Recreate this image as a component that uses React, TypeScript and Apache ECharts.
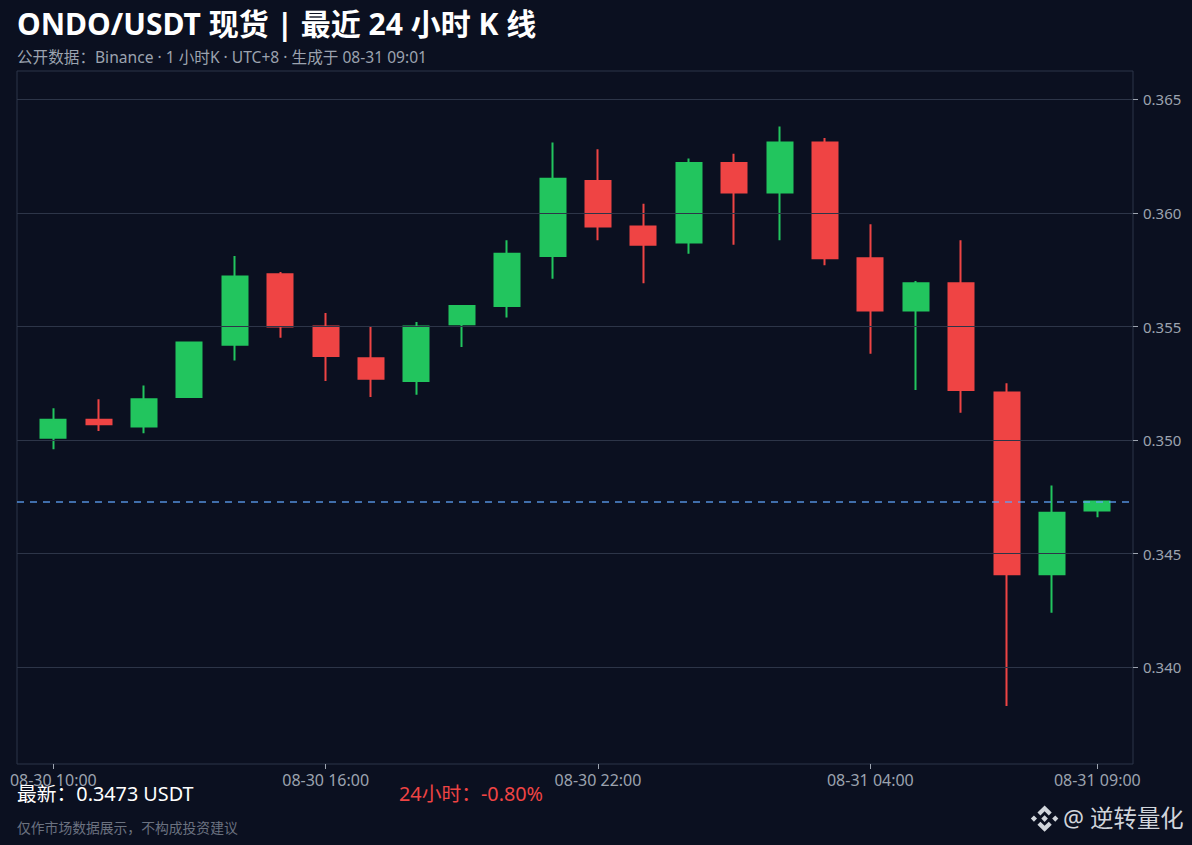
import React, { useEffect, useRef } from "react";
import * as echarts from "echarts";

const TITLE = "ONDO/USDT 现货 | 最近 24 小时 K 线";
const SUBTITLE = "公开数据：Binance · 1 小时K · UTC+8 · 生成于 08-31 09:01";
const LATEST = "最新：0.3473 USDT";
const CHANGE = "24小时：-0.80%";
const DISCLAIMER = "仅作市场数据展示，不构成投资建议";
const WATERMARK = "@ 逆转量化";

const hours = Array.from({ length: 24 }, (_, i) => i);
const opens = [0.3501, 0.3509, 0.3506, 0.3519, 0.3542, 0.3573, 0.355, 0.3536, 0.3526, 0.3551, 0.3559, 0.3581, 0.3614, 0.3594, 0.3587, 0.3622, 0.3609, 0.3631, 0.358, 0.3557, 0.3569, 0.3521, 0.3441, 0.3469];
const closes = [0.3509, 0.3507, 0.3518, 0.3543, 0.3572, 0.355, 0.3537, 0.3527, 0.355, 0.3559, 0.3582, 0.3615, 0.3594, 0.3586, 0.3622, 0.3609, 0.3631, 0.358, 0.3557, 0.3569, 0.3522, 0.3441, 0.3468, 0.3473];
const lows = [0.3496, 0.3504, 0.3503, 0.3519, 0.3535, 0.3545, 0.3526, 0.3519, 0.352, 0.3541, 0.3554, 0.3571, 0.3588, 0.3569, 0.3582, 0.3586, 0.3588, 0.3577, 0.3538, 0.3522, 0.3512, 0.3383, 0.3424, 0.3466];
const highs = [0.3514, 0.3518, 0.3524, 0.3543, 0.3581, 0.3574, 0.3556, 0.355, 0.3552, 0.3559, 0.3588, 0.3631, 0.3628, 0.3604, 0.3624, 0.3626, 0.3638, 0.3633, 0.3595, 0.357, 0.3588, 0.3525, 0.348, 0.3473];
const lastPrice = 0.3473;

const xTickPositions = [0, 6, 12, 18, 23];
const xTickLabels = ["08-30 10:00", "08-30 16:00", "08-30 22:00", "08-31 04:00", "08-31 09:00"];
const yTicks = [0.34, 0.345, 0.35, 0.355, 0.36, 0.365];

const BG = "#0b1020";
const GRID = "#2d3548";
const UP = "#22c55e";
const DOWN = "#ef4444";
const FONT = '"Noto Sans", "Noto Sans CJK SC", sans-serif';

const LOGO =
  "M16 4L22.5 10.5L19.8 13.2L16 9.4L12.2 13.2L9.5 10.5Z" +
  "M16 28L22.5 21.5L19.8 18.8L16 22.6L12.2 18.8L9.5 21.5Z" +
  "M3.5 16L6.3 13.2L9.1 16L6.3 18.8Z" +
  "M28.5 16L25.7 13.2L22.9 16L25.7 18.8Z" +
  "M16 13L19 16L16 19L13 16Z";

export default function App() {
  const ref = useRef<HTMLDivElement>(null);

  useEffect(() => {
    document.body.style.margin = "0";
    document.body.style.background = BG;
    echarts.graphic.registerShape("bnbLogo", (echarts.graphic as any).extendPath(LOGO, {}));
    const chart = echarts.init(ref.current!, undefined, { renderer: "svg" });
    const text = (x: number, y: number, t: string, size: number, fill: string, weight: any = "normal") => ({
      type: "text",
      x,
      y,
      z: 20,
      style: { text: t, fontSize: size, fill, fontWeight: weight, fontFamily: FONT, textVerticalAlign: "middle" },
    });
    chart.setOption({
      animation: false,
      backgroundColor: BG,
      grid: {
        show: true,
        left: 17,
        top: 71,
        width: 1116,
        height: 693,
        borderColor: GRID,
        borderWidth: 1,
        backgroundColor: "transparent",
      },
      xAxis: {
        type: "value",
        min: -0.8,
        max: 23.786,
        splitLine: { show: false },
        axisLine: { show: false, onZero: false },
        axisTick: { show: true, length: 5, customValues: xTickPositions, lineStyle: { color: "#9ca3af" } },
        axisLabel: {
          show: true,
          customValues: xTickPositions,
          color: "#9ca3af",
          fontSize: 16,
          margin: 8,
          fontFamily: FONT,
          formatter: (v: number) => xTickLabels[xTickPositions.indexOf(v)] ?? "",
        },
      },
      yAxis: {
        type: "value",
        position: "right",
        min: 0.335744,
        max: 0.366246,
        z: 3,
        axisLine: { show: false, onZero: false },
        axisTick: { show: true, length: 5, customValues: yTicks, lineStyle: { color: "#9ca3af" } },
        axisLabel: {
          show: true,
          customValues: yTicks,
          color: "#9ca3af",
          fontSize: 15,
          margin: 10,
          fontFamily: FONT,
          formatter: (v: number) => v.toFixed(3),
        },
        splitLine: { show: true, lineStyle: { color: GRID, width: 1 } },
      },
      series: [
        {
          type: "candlestick",
          barWidth: 25.5,
          data: hours.map((h, i) => [h, opens[i], closes[i], lows[i], highs[i]]),
          encode: { x: 0, y: [1, 2, 3, 4] },
          itemStyle: { color: UP, color0: DOWN, borderColor: UP, borderColor0: DOWN, borderWidth: 2 },
          markLine: {
            silent: true,
            symbol: "none",
            precision: 4,
            label: { show: false },
            lineStyle: { color: "#60a5fa", type: [7, 6], width: 1.5, opacity: 0.85 },
            data: [{ yAxis: lastPrice }],
          },
        },
      ],
      graphic: [
        text(17, 23, TITLE, 30, "#ffffff", "bold"),
        text(17, 57, SUBTITLE, 15.6, "#9ca3af"),
        text(17, 793, LATEST, 19.8, "#ffffff"),
        text(399, 793, CHANGE, 19.8, DOWN),
        text(17, 827, DISCLAIMER, 13.8, "#6b7280"),
        text(1063, 818, WATERMARK, 23.4, "#d1d5db"),
        { type: "bnbLogo", x: 1027, y: 801, scaleX: 1.1, scaleY: 1.1, z: 20, style: { fill: "#d1d5db" } },
      ],
    });
    return () => chart.dispose();
  }, []);

  return <div ref={ref} style={{ position: "absolute", left: 0, top: 0, width: 1192, height: 845 }} />;
}
